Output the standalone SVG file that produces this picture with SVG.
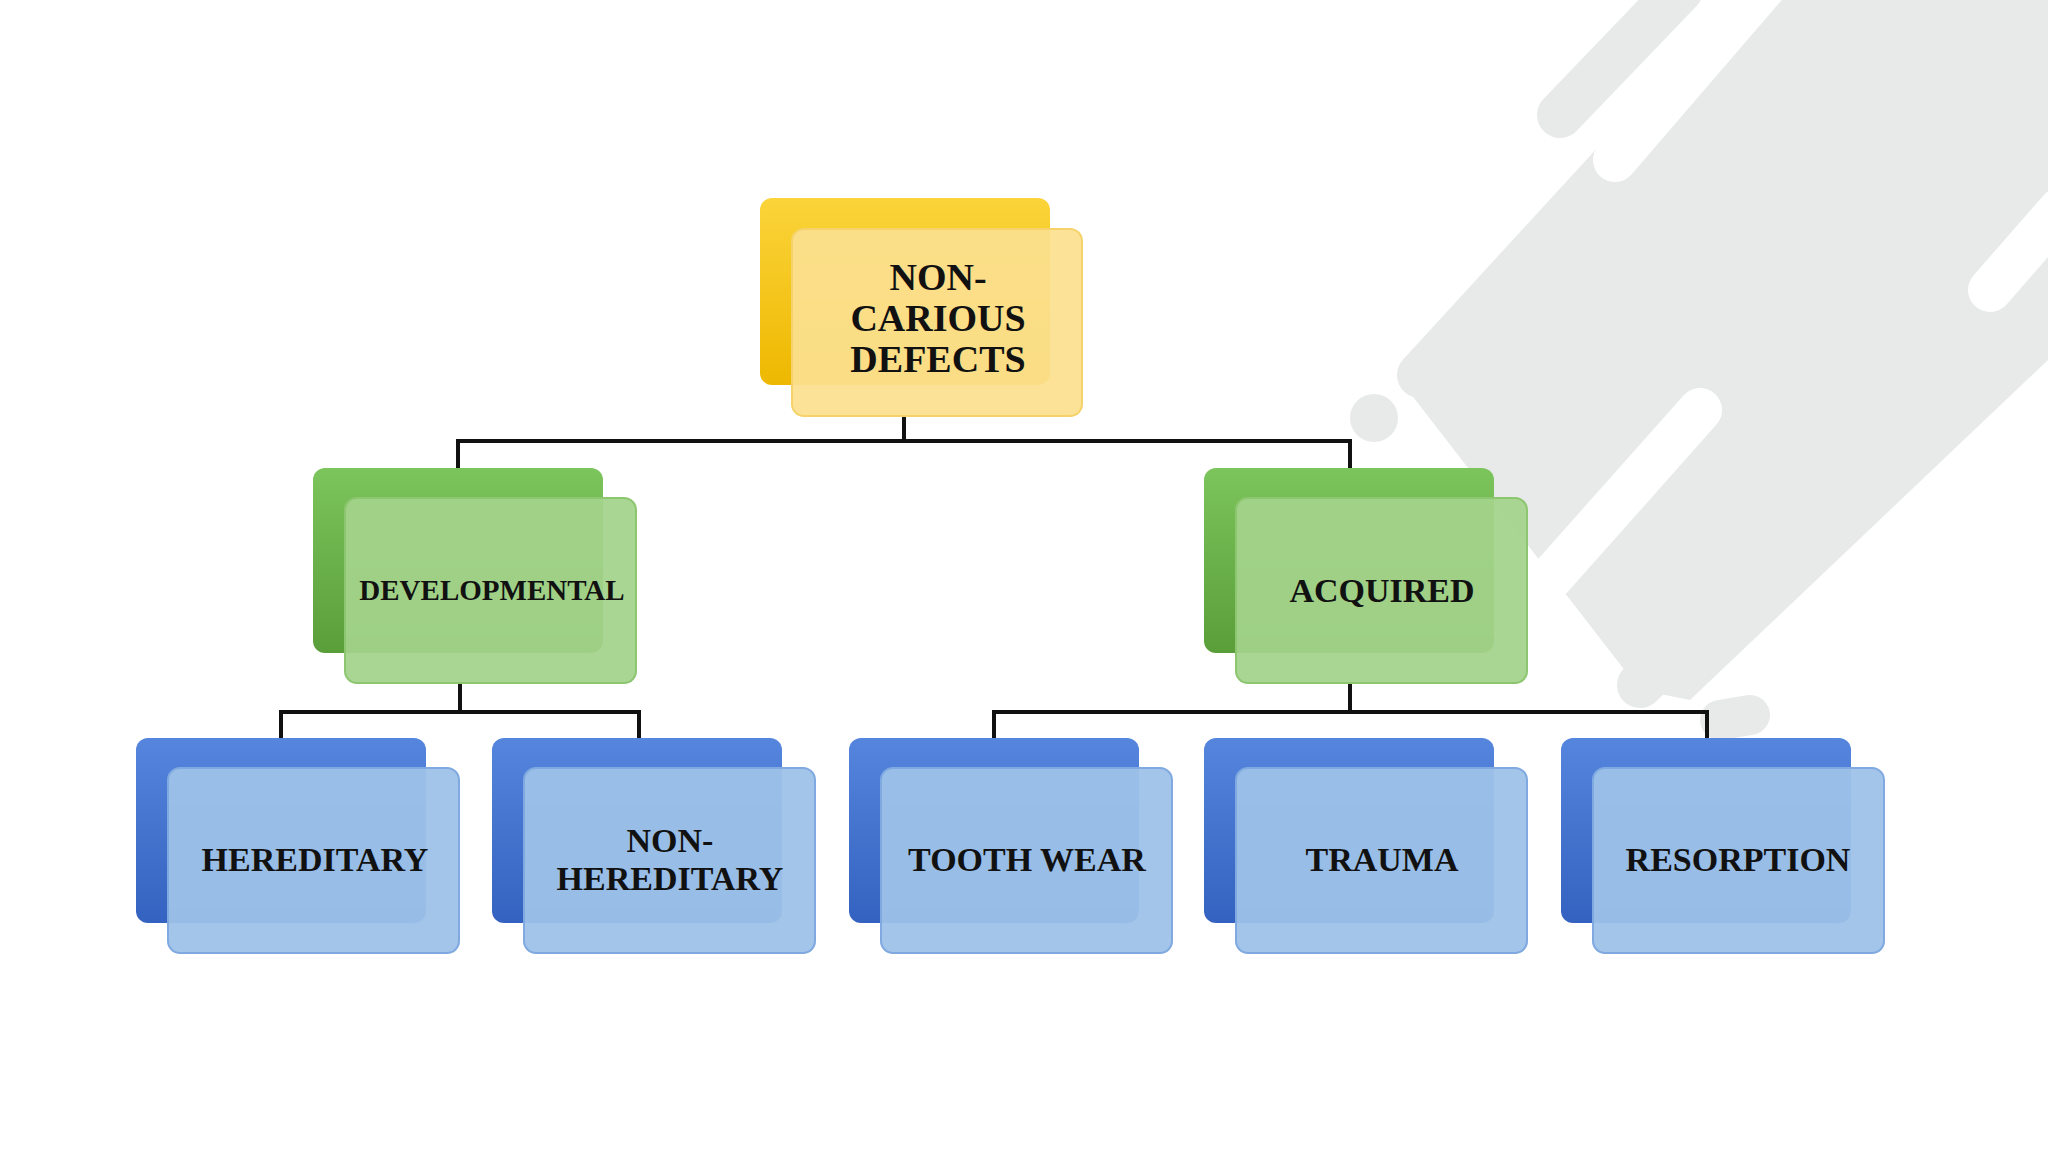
<svg xmlns="http://www.w3.org/2000/svg" width="2048" height="1152" viewBox="0 0 2048 1152">
<style>
.t{font-family:"Liberation Serif","DejaVu Serif",serif;font-weight:bold;fill:#111;text-anchor:middle}
.c{stroke:#111;stroke-width:4;fill:none}
.bg{stroke:#e7eae9;stroke-linecap:round;fill:none}
</style>
<defs>
<linearGradient id="gy" x1="0" y1="0" x2="0" y2="1"><stop offset="0" stop-color="#fbd43a"/><stop offset="1" stop-color="#eeb800"/></linearGradient>
<linearGradient id="gg" x1="0" y1="0" x2="0" y2="1"><stop offset="0" stop-color="#7cc45c"/><stop offset="1" stop-color="#5a9e3a"/></linearGradient>
<linearGradient id="gb" x1="0" y1="0" x2="0" y2="1"><stop offset="0" stop-color="#5585dd"/><stop offset="1" stop-color="#3462c0"/></linearGradient>
</defs>
<rect width="2048" height="1152" fill="#fff"/>
<g id="background">
<polygon points="1400,380 1740,0 2048,0 2048,360 1690,700 1640,690" fill="#e7eae9"/>
<path class="bg" stroke-width="46" d="M1560,115 L1680,-10 M1860,165 L2035,-10 M1985,175 L2050,110 M1420,375 L1700,70 M1640,685 L2048,290"/>
<circle cx="1374" cy="418" r="24" fill="#e7eae9"/>
<path stroke="#fff" stroke-width="44" stroke-linecap="round" d="M1770,-20 L1615,160 M2060,210 L1990,290 M2048,470 L2040,480 M1700,410 L1540,590" fill="none"/>
<path class="bg" stroke-width="40" d="M1720,720 L1750,715"/>
</g>
<g id="connectors">
<path class="c" d="M904,415 V441 M458,468 V441 H1350 V468"/>
<path class="c" d="M460,683 V712 M281,738 V712 H639 V738"/>
<path class="c" d="M1350,683 V712 M994,738 V712 H1707 V738"/>
</g>
<g id="root">
<rect x="760" y="198" width="290" height="187" rx="12" fill="url(#gy)"/>
<rect x="792" y="229" width="290" height="187" rx="12" fill="#fbe08f" fill-opacity="0.93" stroke="#f5d36a" stroke-width="2"/>
<text class="t" font-size="38" x="938" y="290">NON-</text>
<text class="t" font-size="38" x="938" y="331">CARIOUS</text>
<text class="t" font-size="38" x="938" y="372">DEFECTS</text>
</g>
<g id="developmental">
<rect x="313" y="468" width="290" height="185" rx="12" fill="url(#gg)"/>
<rect x="345" y="498" width="291" height="185" rx="12" fill="#a4d38b" fill-opacity="0.93" stroke="#8cc66f" stroke-width="2"/>
<text class="t" font-size="29" x="492" y="600">DEVELOPMENTAL</text>
</g>
<g id="acquired">
<rect x="1204" y="468" width="290" height="185" rx="12" fill="url(#gg)"/>
<rect x="1236" y="498" width="291" height="185" rx="12" fill="#a4d38b" fill-opacity="0.93" stroke="#8cc66f" stroke-width="2"/>
<text class="t" font-size="34" x="1382" y="602">ACQUIRED</text>
</g>
<g id="hereditary">
<rect x="136" y="738" width="290" height="185" rx="12" fill="url(#gb)"/>
<rect x="168" y="768" width="291" height="185" rx="12" fill="#9dc2e8" fill-opacity="0.95" stroke="#7fa9e0" stroke-width="2"/>
<text class="t" font-size="34" x="315" y="871">HEREDITARY</text>
</g>
<g id="non-hereditary">
<rect x="492" y="738" width="290" height="185" rx="12" fill="url(#gb)"/>
<rect x="524" y="768" width="291" height="185" rx="12" fill="#9dc2e8" fill-opacity="0.95" stroke="#7fa9e0" stroke-width="2"/>
<text class="t" font-size="34" x="670" y="852">NON-</text>
<text class="t" font-size="34" x="670" y="890">HEREDITARY</text>
</g>
<g id="tooth-wear">
<rect x="849" y="738" width="290" height="185" rx="12" fill="url(#gb)"/>
<rect x="881" y="768" width="291" height="185" rx="12" fill="#9dc2e8" fill-opacity="0.95" stroke="#7fa9e0" stroke-width="2"/>
<text class="t" font-size="34" x="1027" y="871">TOOTH WEAR</text>
</g>
<g id="trauma">
<rect x="1204" y="738" width="290" height="185" rx="12" fill="url(#gb)"/>
<rect x="1236" y="768" width="291" height="185" rx="12" fill="#9dc2e8" fill-opacity="0.95" stroke="#7fa9e0" stroke-width="2"/>
<text class="t" font-size="34" x="1382" y="871">TRAUMA</text>
</g>
<g id="resorption">
<rect x="1561" y="738" width="290" height="185" rx="12" fill="url(#gb)"/>
<rect x="1593" y="768" width="291" height="185" rx="12" fill="#9dc2e8" fill-opacity="0.95" stroke="#7fa9e0" stroke-width="2"/>
<text class="t" font-size="34" x="1738" y="871">RESORPTION</text>
</g>
</svg>
